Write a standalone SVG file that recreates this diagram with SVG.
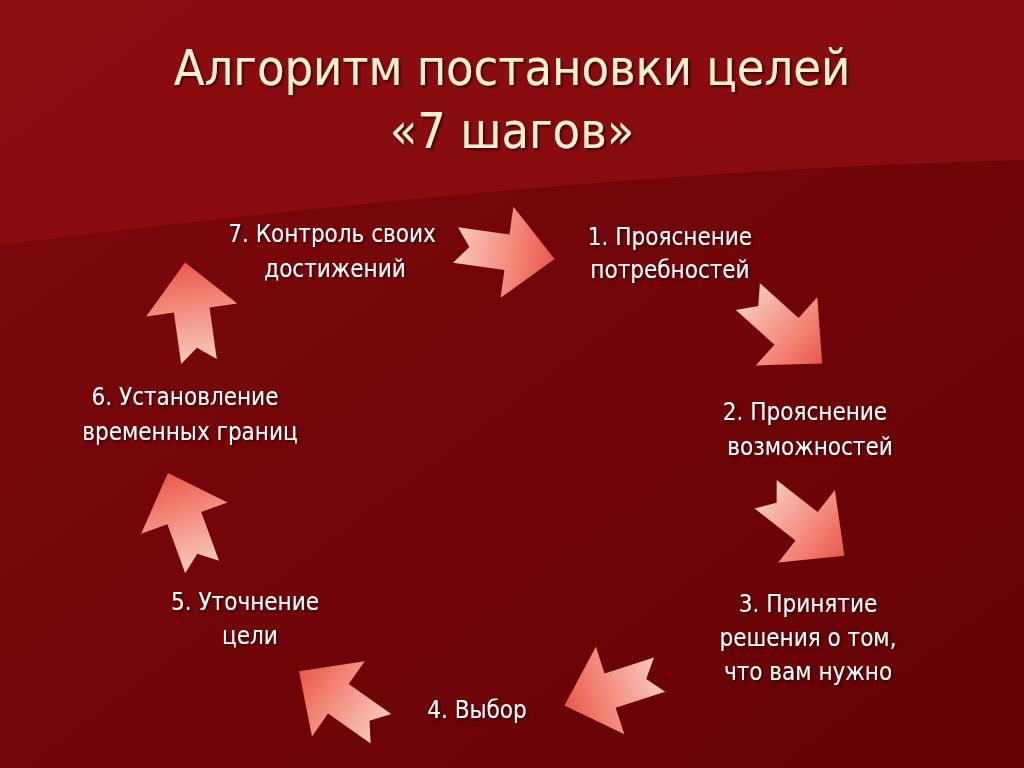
<svg xmlns="http://www.w3.org/2000/svg" width="1024" height="768" viewBox="0 0 1024 768">
<defs>
<linearGradient id="bg" x1="0" y1="0" x2="1" y2="1"><stop offset="0" stop-color="#7e080c"/><stop offset="1" stop-color="#640206"/></linearGradient>
<linearGradient id="ar" x1="0" y1="0" x2="1" y2="0"><stop offset="0" stop-color="#f7c8bc"/><stop offset="0.6" stop-color="#f38678"/><stop offset="1" stop-color="#e9584c"/></linearGradient>
<path id="a" d="M-50,-18 L2,-18 L2,-46 L50,0 L2,46 L2,18 L-50,18 L-36,0 Z"/>
<filter id="sh"><feDropShadow dx="2" dy="2" stdDeviation="1" flood-color="#300" flood-opacity="0.8"/></filter>
</defs>
<style>
.t{font-family:"DejaVu Sans Condensed","DejaVu Sans",sans-serif;font-stretch:condensed;fill:#f8efcf;font-size:50px;text-anchor:middle}
.l{font-family:"DejaVu Sans Condensed","DejaVu Sans",sans-serif;font-stretch:condensed;fill:#fff;font-size:24px;text-anchor:middle}
.arr{fill:url(#ar)}
</style>
<rect width="1024" height="768" fill="url(#bg)"/>
<path d="M0,0 H1024 V160 Q600,170 0,245 Z" fill="#961014" opacity="0.6"/>
<g filter="url(#sh)">
<text class="t" x="512" y="85">Алгоритм постановки целей</text>
<text class="t" x="512" y="148">«7 шагов»</text>
</g>
<g id="connectors">
<use href="#a" class="arr" transform="translate(505,252) rotate(8)"/>
<use href="#a" class="arr" transform="translate(785,330) rotate(42)"/>
<use href="#a" class="arr" transform="translate(805,525) rotate(38)"/>
<use href="#a" class="arr" transform="translate(612,690) rotate(162)"/>
<use href="#a" class="arr" transform="translate(340,700) rotate(215)"/>
<use href="#a" class="arr" transform="translate(185,520) rotate(250)"/>
<use href="#a" class="arr" transform="translate(192,312) rotate(262)"/>
</g>
<g filter="url(#sh)">
<g id="n1"><text class="l" x="670" y="245">1. Прояснение</text><text class="l" x="670" y="278">потребностей</text></g>
<g id="n2"><text class="l" x="805" y="420">2. Прояснение</text><text class="l" x="810" y="455">возможностей</text></g>
<g id="n3"><text class="l" x="808" y="612">3. Принятие</text><text class="l" x="808" y="646">решения о том,</text><text class="l" x="808" y="680">что вам нужно</text></g>
<g id="n4"><text class="l" x="477" y="718">4. Выбор</text></g>
<g id="n5"><text class="l" x="245" y="610">5. Уточнение</text><text class="l" x="250" y="644">цели</text></g>
<g id="n6"><text class="l" x="185" y="405">6. Установление</text><text class="l" x="190" y="440">временных границ</text></g>
<g id="n7"><text class="l" x="332" y="242">7. Контроль  своих</text><text class="l" x="335" y="277">достижений</text></g>
</g>
</svg>
